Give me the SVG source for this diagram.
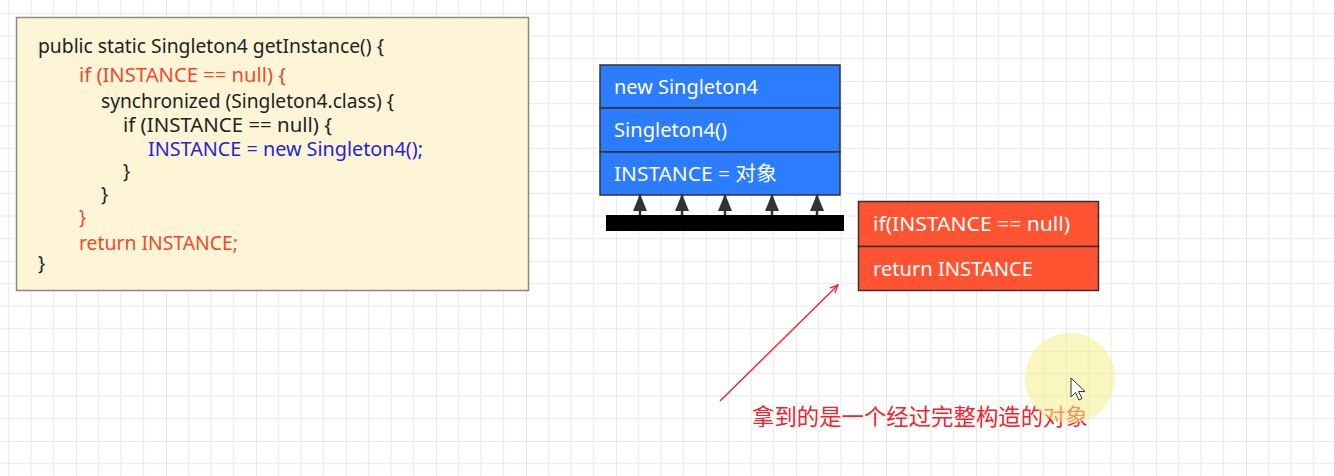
<svg xmlns="http://www.w3.org/2000/svg" width="1334" height="476" viewBox="0 0 1334 476">
<style>
.code{font-family:"Noto Sans","Noto Sans CJK SC",sans-serif;font-size:19px;fill:#222}
.red{fill:#ec4b2e}
.blue{fill:#1f24d8}
.lbl{font-family:"Noto Sans","Noto Sans CJK SC",sans-serif;font-size:20px;fill:#ffffff}
.note{font-family:"Noto Sans CJK SC",sans-serif;font-size:22.4px;fill:#f2242c}
.up{stroke:#333;stroke-width:2.5}
</style>
<defs>
<pattern id="grid" x="76" y="81" width="90" height="90" patternUnits="userSpaceOnUse">
<path d="M22.5 0V90M45 0V90M67.5 0V90M0 22.5H90M0 45H90M0 67.5H90" stroke="#efefef" stroke-width="1.5" fill="none"/>
<path d="M0 0V90M0 0H90" stroke="#e2e2e2" stroke-width="1.5" fill="none"/>
</pattern>
<marker id="ah" viewBox="0 0 17 14" refX="17" refY="7" markerWidth="17" markerHeight="14" markerUnits="userSpaceOnUse" orient="auto">
<path d="M0 0L17 7L0 14Z" fill="#333"/>
</marker>
<marker id="ra" viewBox="0 0 10 10" refX="9" refY="5" markerWidth="9" markerHeight="9" markerUnits="userSpaceOnUse" orient="auto">
<path d="M0 1L9 5L0 9" fill="none" stroke="#f2242c" stroke-width="1.5"/>
</marker>
</defs>
<rect width="1334" height="476" fill="#ffffff"/>
<rect width="1334" height="476" fill="url(#grid)"/>

<g id="code-box">
<rect x="16.5" y="17.5" width="512" height="273" fill="#fdf5d6" stroke="#8a8a80" stroke-width="1.5"/>
<text class="code" x="38" y="53" textLength="346" lengthAdjust="spacingAndGlyphs">public static Singleton4 getInstance() {</text>
<text class="code red" x="79" y="82" textLength="207" lengthAdjust="spacingAndGlyphs">if (INSTANCE == null) {</text>
<text class="code" x="101" y="108" textLength="293" lengthAdjust="spacingAndGlyphs">synchronized (Singleton4.class) {</text>
<text class="code" x="123" y="132" textLength="209" lengthAdjust="spacingAndGlyphs">if (INSTANCE == null) {</text>
<text class="code blue" x="148" y="156" textLength="275" lengthAdjust="spacingAndGlyphs">INSTANCE = new Singleton4();</text>
<text class="code" x="123" y="178">}</text>
<text class="code" x="101" y="201">}</text>
<text class="code red" x="79" y="224">}</text>
<text class="code red" x="79" y="250" textLength="159" lengthAdjust="spacingAndGlyphs">return INSTANCE;</text>
<text class="code" x="38" y="270">}</text>
</g>

<g id="blue-stack">
<rect x="600" y="65" width="240" height="43" fill="#2b7cff" stroke="#333" stroke-width="1.5"/>
<rect x="600" y="108" width="240" height="44" fill="#2b7cff" stroke="#333" stroke-width="1.5"/>
<rect x="600" y="152" width="240" height="43" fill="#2b7cff" stroke="#333" stroke-width="1.5"/>
<text class="lbl" x="614" y="94" textLength="144" lengthAdjust="spacingAndGlyphs">new Singleton4</text>
<text class="lbl" x="614" y="137" textLength="113" lengthAdjust="spacingAndGlyphs">Singleton4()</text>
<text class="lbl" x="614" y="181" textLength="163" lengthAdjust="spacingAndGlyphs">INSTANCE = 对象</text>
</g>

<g id="bar">
<rect x="606" y="215" width="238" height="16" fill="#000"/>
</g>

<g id="orange-stack">
<rect x="858.5" y="201.5" width="240" height="45" fill="#ff5331" stroke="#333" stroke-width="1.5"/>
<rect x="858.5" y="246.5" width="240" height="44" fill="#ff5331" stroke="#333" stroke-width="1.5"/>
<text class="lbl" x="873" y="231" textLength="197" lengthAdjust="spacingAndGlyphs">if(INSTANCE == null)</text>
<text class="lbl" x="873" y="276" textLength="160" lengthAdjust="spacingAndGlyphs">return INSTANCE</text>
</g>

<g id="connectors">
<line class="up" x1="640" y1="215" x2="640" y2="194" marker-end="url(#ah)"/>
<line class="up" x1="682" y1="215" x2="682" y2="194" marker-end="url(#ah)"/>
<line class="up" x1="725" y1="215" x2="725" y2="194" marker-end="url(#ah)"/>
<line class="up" x1="772" y1="215" x2="772" y2="194" marker-end="url(#ah)"/>
<line class="up" x1="817" y1="215" x2="817" y2="194" marker-end="url(#ah)"/>
<line x1="720" y1="401" x2="838" y2="285" stroke="#f2242c" stroke-width="1.5" marker-end="url(#ra)"/>
</g>

<g id="note">
<text class="note" x="752" y="425">拿到的是一个经过完整构造的对象</text>
</g>

<g id="cursor">
<circle cx="1070" cy="378" r="45" fill="#f5ef8a" fill-opacity="0.55"/>
<path d="M1071 378V397L1075.5 392.5L1079 400L1082 398.5L1078.5 391.5H1085Z" fill="#fff" stroke="#333" stroke-width="1"/>
</g>
</svg>
